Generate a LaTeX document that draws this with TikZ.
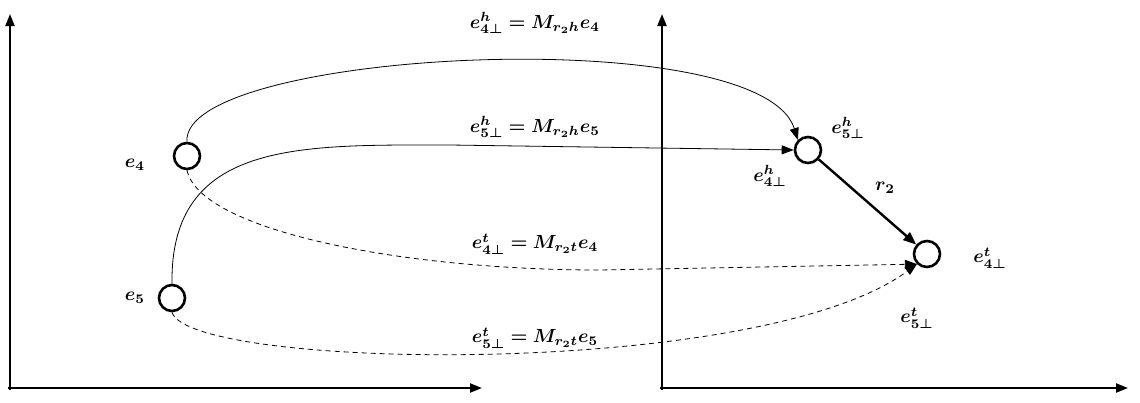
\documentclass[tikz,border=0pt]{standalone}
\usepackage{amsmath,bm,graphicx}
\usetikzlibrary{arrows.meta}
\newcommand{\lblx}[1]{\scalebox{1.9}{$\boldsymbol{#1}$}}
\begin{document}
\begin{tikzpicture}[x=1pt,y=-1pt,
  ax/.style={line width=2.2pt,-{Triangle[length=12pt,width=9pt]}},
  ent/.style={circle,draw,line width=2.6pt,minimum size=26pt,inner sep=0pt},
  lab/.style={inner sep=1pt},
  cur/.style={line width=0.8pt,-{Triangle[length=12pt,width=9pt]}},
  dcur/.style={cur,dash pattern=on 5pt off 4pt}]
\useasboundingbox (0,0) rectangle (1140,402);
\coordinate (o1) at (10,390);
\coordinate (y1) at (10,14);
\coordinate (x1) at (482,388);
\coordinate (o2) at (662,390);
\coordinate (y2) at (662,14);
\coordinate (x2) at (1128,388);
\draw[ax] (o1) -- (y1);
\draw[ax] (8,388) -- (x1);
\draw[ax] (o2) -- (y2);
\draw[ax] (660,388) -- (x2);
\node[ent] (e4) at (187,156) {};
\node[ent] (e5) at (172,298) {};
\node[ent] (h) at (808,150) {};
\node[ent] (t) at (927,254) {};
\node[lab] at (135,165) {\lblx{e_4}};
\node[lab] at (135,298) {\lblx{e_5}};
\node[lab] (l1) at (535,23) {\lblx{e^h_{4\perp}=M_{r_2h}e_4}};
\node[lab] (l2) at (535,127) {\lblx{e^h_{5\perp}=M_{r_2h}e_5}};
\node[lab] (l3) at (535,244) {\lblx{e^t_{4\perp}=M_{r_2t}e_4}};
\node[lab] (l4) at (535,338) {\lblx{e^t_{5\perp}=M_{r_2t}e_5}};
\node[lab] at (848,128) {\lblx{e^h_{5\perp}}};
\node[lab] at (770,176) {\lblx{e^h_{4\perp}}};
\node[lab] at (885,188) {\lblx{r_2}};
\node[lab] at (990,258) {\lblx{e^t_{4\perp}}};
\node[lab] at (917,318) {\lblx{e^t_{5\perp}}};
\draw[line width=2.4pt,-{Triangle[length=13pt,width=10pt]}] (h) -- (t);
\draw[cur] (e4.north) .. controls (180,50) and (760,20) .. (h.north west);
\draw[cur] (e5.north) .. controls (170,140) and (300,145) .. (450,145) -- (h.west);
\draw[dcur] (e4.south) .. controls (200,230) and (400,270) .. (600,270) -- (t.south west);
\draw[dcur] (e5.south) .. controls (190,370) and (760,380) .. (t.south west);
\end{tikzpicture}
\end{document}
